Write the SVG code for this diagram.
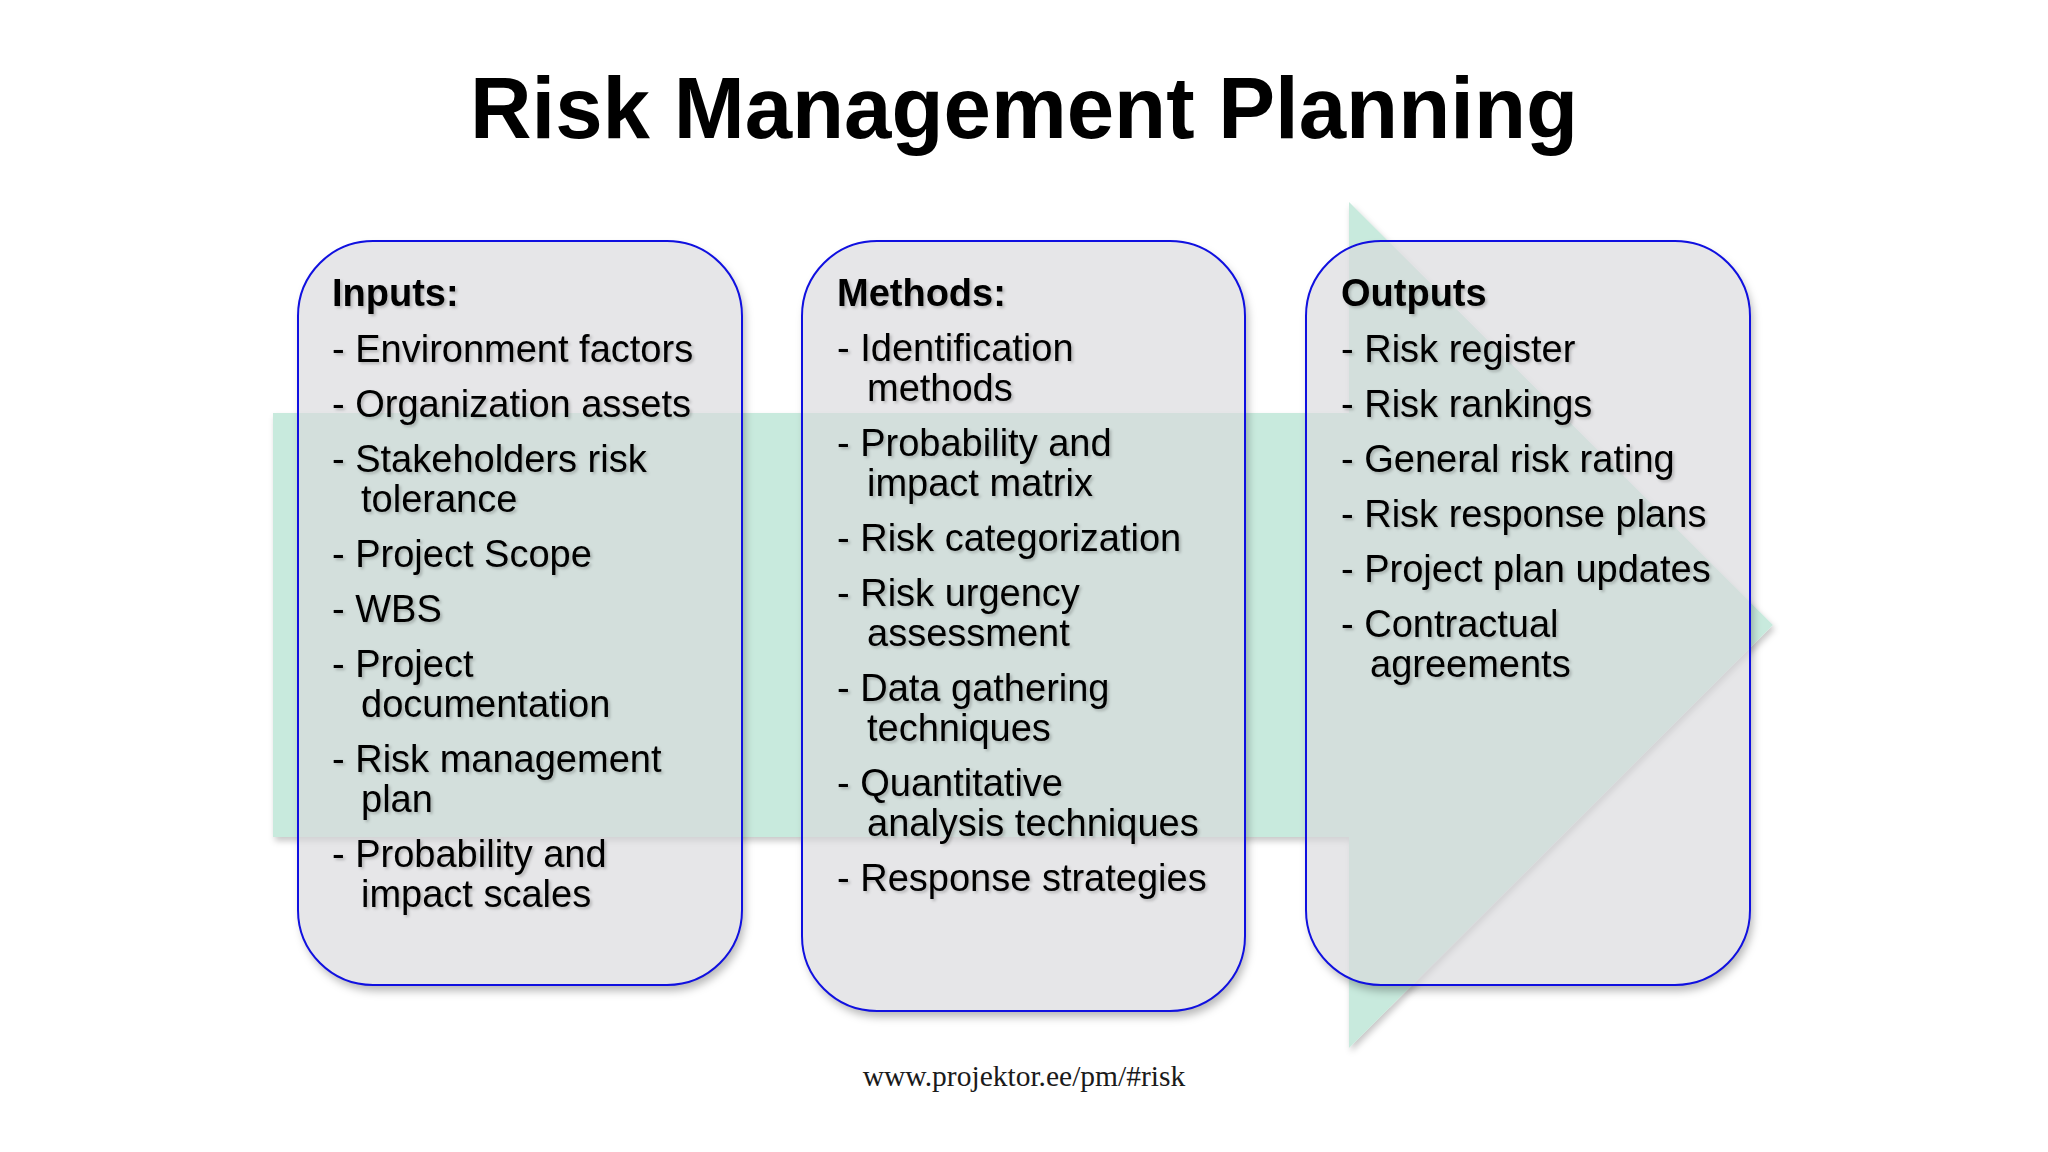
<svg xmlns="http://www.w3.org/2000/svg" width="2048" height="1152" viewBox="0 0 2048 1152">
  <style>
    .t { font-family: "Liberation Sans", Arial, sans-serif; font-size: 38px; fill: #000; }
    .h { font-weight: bold; }
    .box { fill: #d9d8db; fill-opacity: 0.65; stroke: #1010e0; stroke-width: 2; }
    .shadowshape { fill: #000; }
  </style>
  <defs>
    <filter id="outShadow" x="-10%" y="-10%" width="120%" height="120%">
      <feGaussianBlur in="SourceAlpha" stdDeviation="4" result="b"/>
      <feOffset in="b" dx="3" dy="6" result="o"/>
      <feComposite in="o" in2="SourceAlpha" operator="out" result="c"/>
      <feColorMatrix in="c" type="matrix" values="0 0 0 0 0  0 0 0 0 0  0 0 0 0 0  0 0 0 0.28 0"/>
    </filter>
    <filter id="arrowShadow" x="-10%" y="-10%" width="120%" height="120%">
      <feDropShadow dx="2" dy="4" stdDeviation="3" flood-color="#000" flood-opacity="0.22"/>
    </filter>
    <filter id="textShadow" x="-5%" y="-20%" width="110%" height="140%">
      <feDropShadow dx="2" dy="2" stdDeviation="1.5" flood-color="#000" flood-opacity="0.22"/>
    </filter>
  </defs>

  <rect width="2048" height="1152" fill="#ffffff"/>

  <text id="title" x="1024" y="138" text-anchor="middle" font-family="Liberation Sans, Arial, sans-serif" font-weight="bold" font-size="87" textLength="1108" lengthAdjust="spacingAndGlyphs" fill="#000">Risk Management Planning</text>

  <g id="connectors">
    <polygon id="flow-arrow" points="273,413 1349,413 1349,202 1773,625 1349,1048 1349,837 273,837" fill="#c8eadd" filter="url(#arrowShadow)"/>
  </g>

  <g id="box-inputs">
    <rect class="shadowshape" x="298" y="241" width="444" height="744" rx="75" ry="75" filter="url(#outShadow)"/>
    <rect class="box" x="298" y="241" width="444" height="744" rx="75" ry="75"/>
    <g filter="url(#textShadow)">
      <text class="t h" x="332" y="306">Inputs:</text>
      <text class="t" x="332" y="362">- Environment factors</text>
      <text class="t" x="332" y="417">- Organization assets</text>
      <text class="t" x="332" y="472">- Stakeholders risk</text>
      <text class="t" x="361" y="512">tolerance</text>
      <text class="t" x="332" y="567">- Project Scope</text>
      <text class="t" x="332" y="622">- WBS</text>
      <text class="t" x="332" y="677">- Project</text>
      <text class="t" x="361" y="717">documentation</text>
      <text class="t" x="332" y="772">- Risk management</text>
      <text class="t" x="361" y="812">plan</text>
      <text class="t" x="332" y="867">- Probability and</text>
      <text class="t" x="361" y="907">impact scales</text>
    </g>
  </g>

  <g id="box-methods">
    <rect class="shadowshape" x="802" y="241" width="443" height="770" rx="75" ry="75" filter="url(#outShadow)"/>
    <rect class="box" x="802" y="241" width="443" height="770" rx="75" ry="75"/>
    <g filter="url(#textShadow)">
      <text class="t h" x="837" y="306">Methods:</text>
      <text class="t" x="837" y="361">- Identification</text>
      <text class="t" x="867" y="401">methods</text>
      <text class="t" x="837" y="456">- Probability and</text>
      <text class="t" x="867" y="496">impact matrix</text>
      <text class="t" x="837" y="551">- Risk categorization</text>
      <text class="t" x="837" y="606">- Risk urgency</text>
      <text class="t" x="867" y="646">assessment</text>
      <text class="t" x="837" y="701">- Data gathering</text>
      <text class="t" x="867" y="741">techniques</text>
      <text class="t" x="837" y="796">- Quantitative</text>
      <text class="t" x="867" y="836">analysis techniques</text>
      <text class="t" x="837" y="891">- Response strategies</text>
    </g>
  </g>

  <g id="box-outputs">
    <rect class="shadowshape" x="1306" y="241" width="444" height="744" rx="75" ry="75" filter="url(#outShadow)"/>
    <rect class="box" x="1306" y="241" width="444" height="744" rx="75" ry="75"/>
    <g filter="url(#textShadow)">
      <text class="t h" x="1341" y="306">Outputs</text>
      <text class="t" x="1341" y="362">- Risk register</text>
      <text class="t" x="1341" y="417">- Risk rankings</text>
      <text class="t" x="1341" y="472">- General risk rating</text>
      <text class="t" x="1341" y="527">- Risk response plans</text>
      <text class="t" x="1341" y="582">- Project plan updates</text>
      <text class="t" x="1341" y="637">- Contractual</text>
      <text class="t" x="1370" y="677">agreements</text>
    </g>
  </g>

  <text id="footer" x="1024" y="1086" text-anchor="middle" font-family="Liberation Serif, Times New Roman, serif" font-size="29.5" fill="#1a1a1a">www.projektor.ee/pm/#risk</text>
</svg>
